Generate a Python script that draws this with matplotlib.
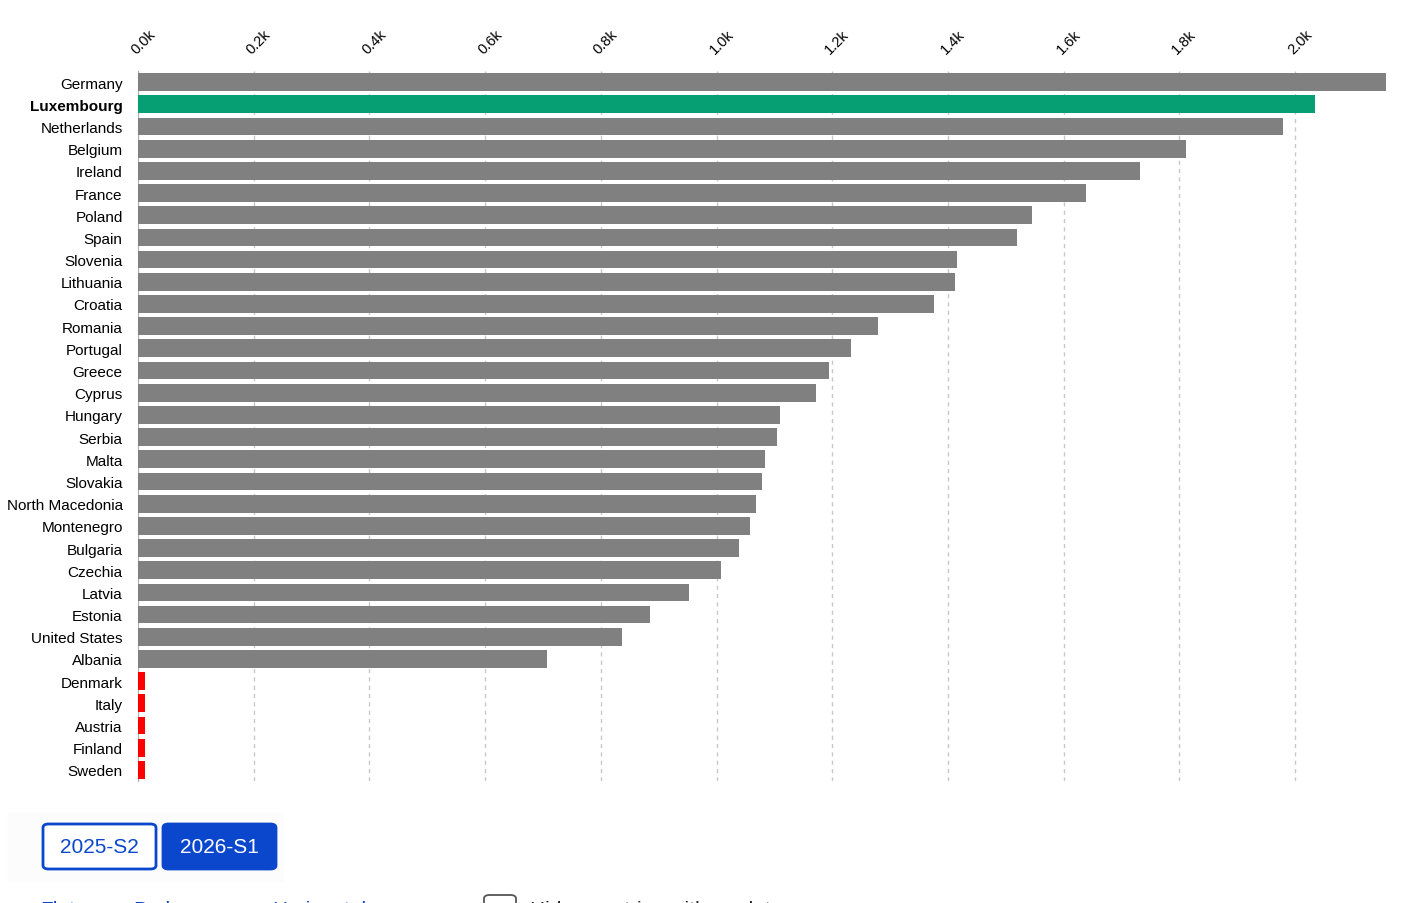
import matplotlib as mpl
mpl.use('Agg')
import matplotlib.pyplot as plt
from matplotlib.patches import FancyBboxPatch, Rectangle
from matplotlib.ticker import FuncFormatter

plt.rcParams['font.family'] = ['Liberation Sans', 'DejaVu Sans']

countries = ['Germany', 'Luxembourg', 'Netherlands', 'Belgium', 'Ireland', 'France',
             'Poland', 'Spain', 'Slovenia', 'Lithuania', 'Croatia', 'Romania',
             'Portugal', 'Greece', 'Cyprus', 'Hungary', 'Serbia', 'Malta', 'Slovakia',
             'North Macedonia', 'Montenegro', 'Bulgaria', 'Czechia', 'Latvia',
             'Estonia', 'United States', 'Albania', 'Denmark', 'Italy', 'Austria',
             'Finland', 'Sweden']
values = [2157, 2035, 1979, 1812, 1732, 1639, 1545, 1519, 1416, 1412, 1376, 1279,
          1233, 1194, 1172, 1110, 1105, 1084, 1079, 1068, 1058, 1039, 1008, 952,
          885, 837, 707, 12, 12, 12, 12, 12]
missing = ['Denmark', 'Italy', 'Austria', 'Finland', 'Sweden']
highlight = 'Luxembourg'
ticks = [0, 200, 400, 600, 800, 1000, 1200, 1400, 1600, 1800, 2000]
buttons = ['2025-S2', '2026-S1']

W, H = 1408, 904
fig = plt.figure(figsize=(W / 100, H / 100), dpi=100)
ax = fig.add_axes([138 / W, 1 - 782 / H, (1386 - 138) / W, (782 - 72) / H])

colors = []
for c in countries:
    if c == highlight:
        colors.append('#069e73')
    elif c in missing:
        colors.append('#ff0000')
    else:
        colors.append('#808080')

ypos = list(range(len(countries)))
ax.barh(ypos, values, height=0.8, color=colors, zorder=3)
ax.set_ylim(len(countries) - 0.5, -0.5)
ax.set_xlim(0, max(values))
ax.set_yticks(ypos)
ax.set_yticklabels(countries, fontsize=11)
for lab in ax.get_yticklabels():
    if lab.get_text() == highlight:
        lab.set_fontweight('bold')

ax.xaxis.tick_top()
ax.set_xticks(ticks)
ax.xaxis.set_major_formatter(FuncFormatter(lambda v, p: f'{v / 1000:.1f}k'))
plt.setp(ax.get_xticklabels(), rotation=45, ha='left', va='bottom',
         rotation_mode='anchor', fontsize=10.5)
ax.tick_params(axis='x', length=0, pad=11)
ax.tick_params(axis='y', length=0, pad=11)
ax.grid(axis='x', linestyle=(0, (3, 3)), color='#c8c8c8', linewidth=1, zorder=0)
for s in ['top', 'right', 'bottom']:
    ax.spines[s].set_visible(False)
ax.spines['left'].set_color('#b0b0b0')

# toggle buttons under the chart
fig.patches.append(Rectangle((8 / W, 1 - 882 / H), 275 / W, 68 / H,
                             transform=fig.transFigure, color='#fcfcfc', zorder=0))
bx = [(43, 156), (163, 276)]
for (x0, x1), lab, on in zip(bx, buttons, [False, True]):
    box = FancyBboxPatch((x0 / W, 1 - 870 / H), (x1 - x0) / W, 45 / H,
                         boxstyle='round,pad=0,rounding_size=0.004',
                         transform=fig.transFigure,
                         facecolor='#0a47cc' if on else 'white',
                         edgecolor='#0a47cc', linewidth=2)
    fig.patches.append(box)
    fig.text((x0 + x1) / 2 / W, 1 - 848 / H, lab, ha='center', va='center',
             fontsize=15, color='white' if on else '#0a47cc')

# partly visible controls at the bottom edge (cut off as in the page capture)
fig.text(40 / W, 1 - 916 / H, 'Flat', fontsize=15, color='#0a47cc')
fig.text(133 / W, 1 - 916 / H, 'Broken', fontsize=15, color='#0a47cc')
fig.text(272 / W, 1 - 916 / H, 'Horizontal', fontsize=15, color='#0a47cc')
fig.patches.append(FancyBboxPatch((484 / W, 1 - 920 / H), 32 / W, 24 / H,
                                  boxstyle='round,pad=0,rounding_size=0.004',
                                  transform=fig.transFigure, facecolor='white',
                                  edgecolor='#555555', linewidth=1.3))
fig.text(530 / W, 1 - 916 / H, 'Hide countries with no data', fontsize=15, color='#222222')

fig.savefig('out.png', dpi=100)
